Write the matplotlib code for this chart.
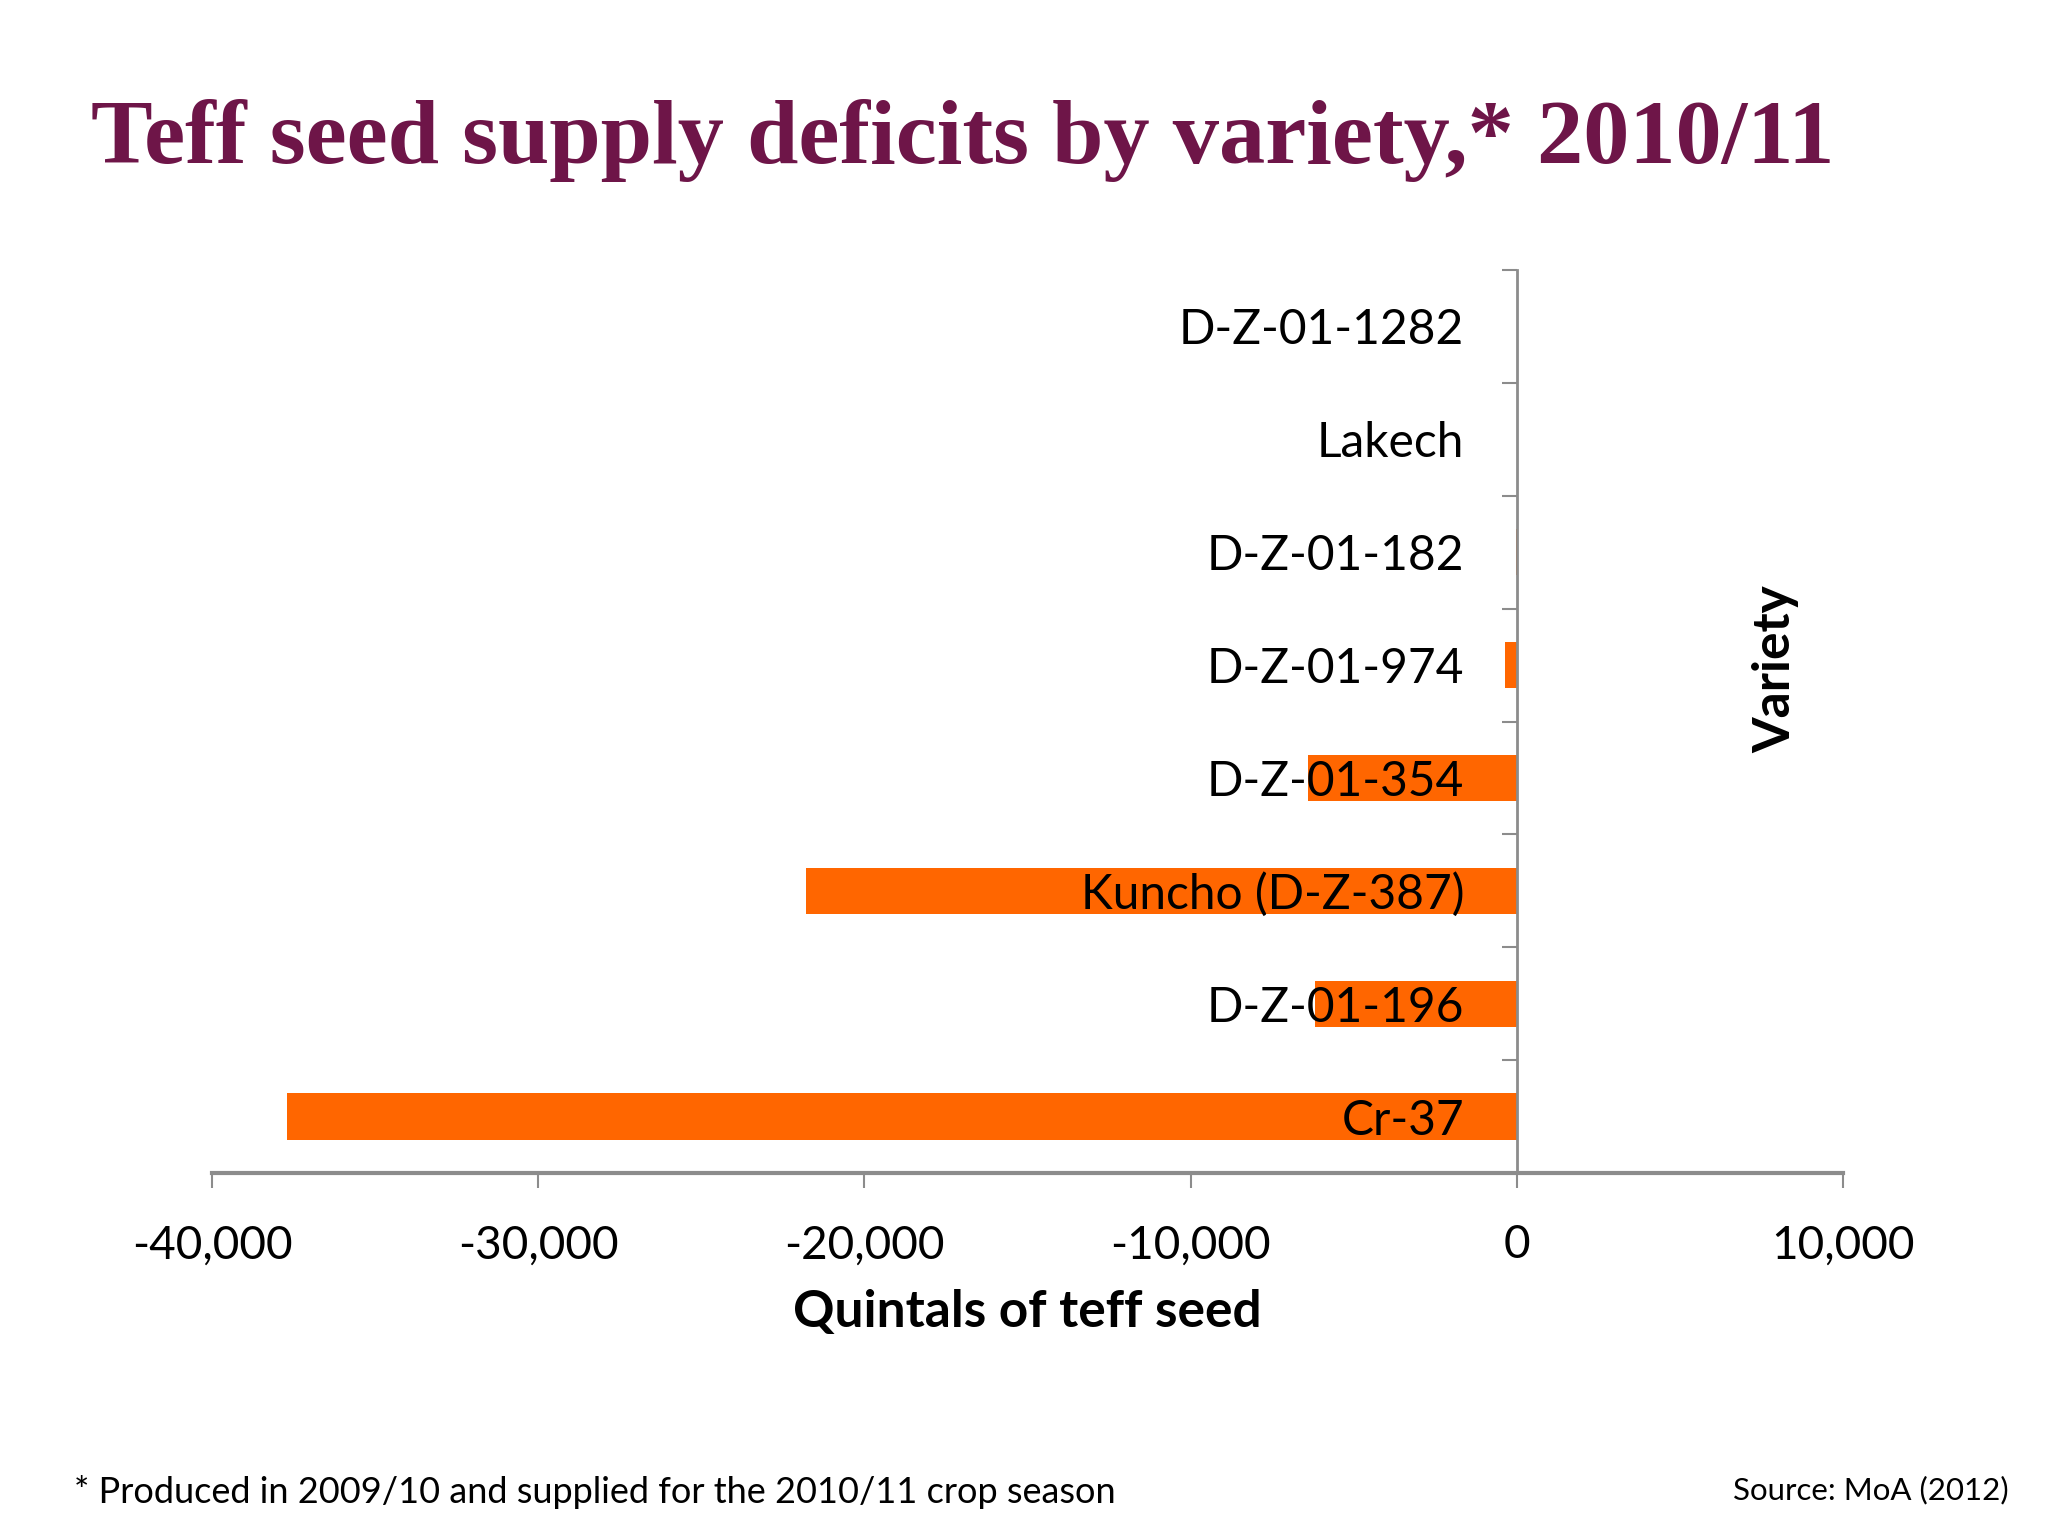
import numpy as np
import matplotlib
matplotlib.use('Agg')
import matplotlib.pyplot as plt
from matplotlib.ticker import FuncFormatter

# data, bottom to top
varieties = ['Cr-37', 'D-Z-01-196', 'Kuncho (D-Z-387)', 'D-Z-01-354',
             'D-Z-01-974', 'D-Z-01-182', 'Lakech', 'D-Z-01-1282']
deficits = [-37700, -6200, -21800, -6400, -370, -40, 0, 20]
xticks = [-40000, -30000, -20000, -10000, 0, 10000]

sans = ['Lato', 'DejaVu Sans']
orange = '#FF6600'
axis_grey = '#8C8C8C'

fig = plt.figure(figsize=(20.48, 15.36), dpi=100)
ax = fig.add_axes([0.1035, 0.2363, 0.7965, 0.5879])

y = np.arange(len(varieties))
ax.barh(y, deficits, height=0.41, color=orange, zorder=2)

ax.set_xlim(-40000, 10000)
ax.set_ylim(-0.5, len(varieties) - 0.5)

for s in ['top', 'right']:
    ax.spines[s].set_visible(False)
ax.spines['left'].set_position(('data', 0))
ax.spines['left'].set_color(axis_grey)
ax.spines['bottom'].set_color(axis_grey)
ax.spines['left'].set_linewidth(2)
ax.spines['bottom'].set_linewidth(3)
ax.spines['left'].set_zorder(3)

ax.set_xticks(xticks)
ax.xaxis.set_major_formatter(FuncFormatter(lambda v, p: f'{int(v):,}'))
ax.tick_params(axis='x', direction='out', length=11, width=1.5, color=axis_grey,
               labelsize=33, pad=26)
for lab in ax.get_xticklabels():
    lab.set_family(sans)

ax.set_yticks(y)
ax.set_yticklabels(varieties, family=sans, fontsize=34.5)
ax.set_yticks(np.arange(-0.5, len(varieties), 1.0), minor=True)
ax.tick_params(axis='y', which='major', length=0, pad=38)
ax.tick_params(axis='y', which='minor', direction='out', length=11, width=1.5,
               color=axis_grey)
# labels sit on top of the bars
ax.yaxis.set_zorder(5)

ax.set_xlabel('Quintals of teff seed', family=sans, fontsize=37,
              fontweight='bold', labelpad=16)

fig.text(1776 / 2048, 1 - 669 / 1536, 'Variety', family=sans, fontsize=37,
         fontweight='bold', rotation=90, ha='center', va='center')

fig.text(91 / 2048, 1 - 163 / 1536, 'Teff seed supply deficits by variety,* 2010/11',
         family='Liberation Serif', fontsize=66.5, fontweight='bold',
         color='#6E1548', ha='left', va='baseline')

fig.text(74 / 2048, 1 - 1503 / 1536,
         '* Produced in 2009/10 and supplied for the 2010/11 crop season',
         family=sans, fontsize=26, ha='left', va='baseline')
fig.text(2009 / 2048, 1 - 1499 / 1536, 'Source: MoA (2012)',
         family=sans, fontsize=22.5, ha='right', va='baseline')

fig.savefig('out.png', dpi=100, facecolor='white')
